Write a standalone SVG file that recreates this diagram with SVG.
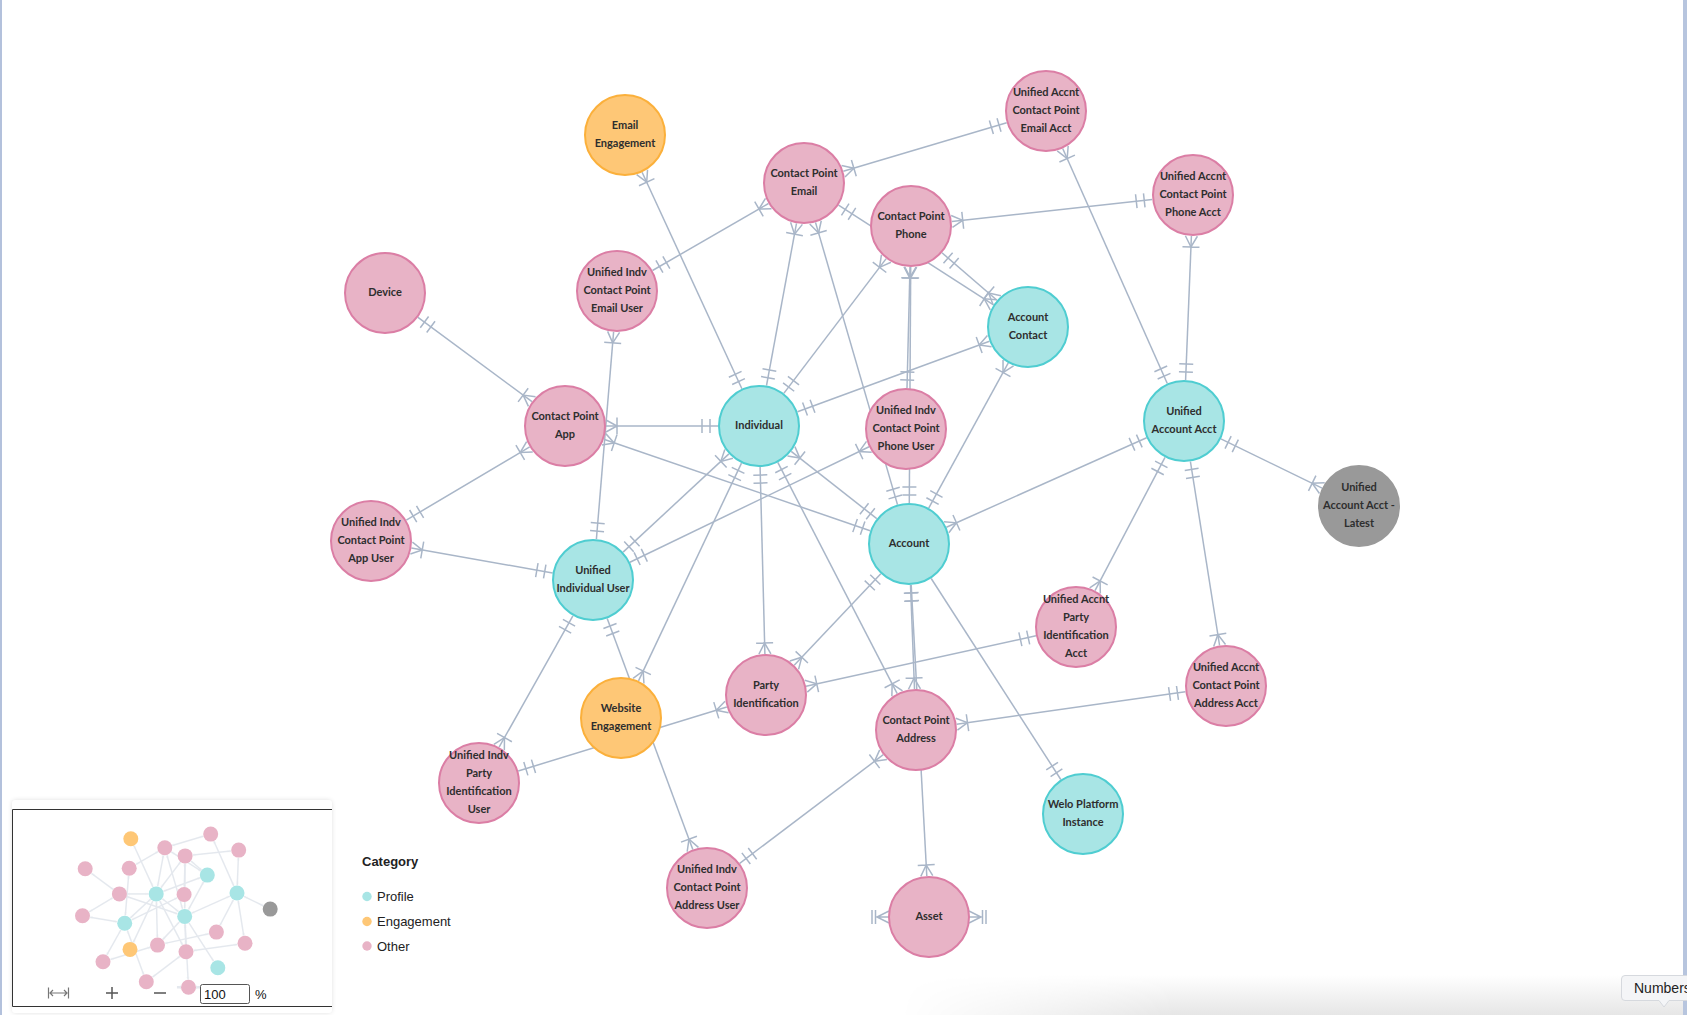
<svg xmlns="http://www.w3.org/2000/svg" width="1687" height="1015" viewBox="0 0 1687 1015">
<style>
.bg{fill:#ffffff}
.e{stroke:#a9b6c8;stroke-width:1.5;fill:none;vector-effect:non-scaling-stroke}
.n circle{stroke-width:2}
.profile circle{fill:#a8e5e5;stroke:#4fcdd1}
.engage circle{fill:#fec776;stroke:#fbb03b}
.other circle{fill:#e8b3c6;stroke:#db7ea5}
.grey circle{fill:#999999;stroke:#999999}
.n text{font-family:Lato,"Liberation Sans",sans-serif;font-size:11px;font-weight:700;fill:#2e2e2e;text-anchor:middle;dominant-baseline:central;transform:translateY(-1.5px)}
.mini circle{stroke:none}
.mp{fill:#a8e5e5}.me{fill:#fec776}.mo{fill:#e8b3c6}.mg{fill:#999999}
.lg{font-family:"Liberation Sans",Arial,sans-serif;font-size:13px;fill:#222}
</style>
<defs>
<marker id="many" viewBox="-20 -12 24 24" refX="0" refY="0" markerWidth="24" markerHeight="24" markerUnits="userSpaceOnUse" orient="auto-start-reverse">
<path d="M0,-6 L-11,0 L0,6 M-11,-8.5 L-11,8.5" fill="none" stroke="#a9b6c8" stroke-width="1.5"/>
</marker>
<marker id="one" viewBox="-20 -12 24 24" refX="0" refY="0" markerWidth="24" markerHeight="24" markerUnits="userSpaceOnUse" orient="auto-start-reverse">
<path d="M-8,-7 L-8,7 M-16,-7 L-16,7" fill="none" stroke="#a9b6c8" stroke-width="1.5"/>
</marker>
<linearGradient id="bottomFade" x1="0" y1="0" x2="0" y2="1">
<stop offset="0" stop-color="#ffffff"/>
<stop offset="1" stop-color="#e6e6e6"/>
</linearGradient>
<linearGradient id="hFade" x1="0" y1="0" x2="1" y2="0">
<stop offset="0" stop-color="#000"/>
<stop offset="0.35" stop-color="#fff"/>
<stop offset="1" stop-color="#fff"/>
</linearGradient>
<mask id="bm" maskUnits="userSpaceOnUse" x="900" y="970" width="790" height="50">
<rect x="900" y="970" width="790" height="50" fill="url(#hFade)"/>
</mask>
<filter id="sh" x="-10%" y="-10%" width="120%" height="120%">
<feDropShadow dx="0" dy="0" stdDeviation="2" flood-color="#000" flood-opacity="0.12"/>
</filter>
</defs>
<rect class="bg" x="0" y="0" width="1687" height="1015"/>
<rect x="900" y="975" width="783" height="40" fill="url(#bottomFade)" mask="url(#bm)"/>
<rect x="0" y="0" width="2" height="1015" fill="#b3c1dc"/>
<rect x="1683" y="0" width="4" height="1015" fill="#b7c5de"/>

<g id="connectors">
<line class="e" x1="642.1" y1="172.2" x2="741.9" y2="388.8" marker-start="url(#many)" marker-end="url(#one)"/>
<line class="e" x1="843.3" y1="171.3" x2="1006.7" y2="122.7" marker-start="url(#many)" marker-end="url(#one)"/>
<line class="e" x1="652.5" y1="270.5" x2="768.5" y2="203.5" marker-start="url(#one)" marker-end="url(#many)"/>
<line class="e" x1="796.5" y1="223.3" x2="766.5" y2="385.7" marker-start="url(#many)" marker-end="url(#one)"/>
<line class="e" x1="815.5" y1="222.4" x2="897.5" y2="504.6" marker-start="url(#many)" marker-end="url(#one)"/>
<line class="e" x1="838.5" y1="205.2" x2="993.5" y2="304.8" marker-start="url(#one)" marker-end="url(#many)"/>
<line class="e" x1="951.8" y1="221.5" x2="1152.2" y2="199.5" marker-start="url(#many)" marker-end="url(#one)"/>
<line class="e" x1="886.2" y1="258.6" x2="783.8" y2="393.4" marker-start="url(#many)" marker-end="url(#one)"/>
<line class="e" x1="910" y1="267" x2="907" y2="388" marker-start="url(#many)" marker-end="url(#one)"/>
<line class="e" x1="910.7" y1="267" x2="909.3" y2="503" marker-start="url(#many)" marker-end="url(#one)"/>
<line class="e" x1="942" y1="252.8" x2="997" y2="300.2" marker-start="url(#one)" marker-end="url(#many)"/>
<line class="e" x1="989.5" y1="341.2" x2="797.5" y2="411.8" marker-start="url(#many)" marker-end="url(#one)"/>
<line class="e" x1="1008.3" y1="362.9" x2="928.7" y2="508.1" marker-start="url(#many)" marker-end="url(#one)"/>
<line class="e" x1="1062.7" y1="148.5" x2="1167.3" y2="383.5" marker-start="url(#many)" marker-end="url(#one)"/>
<line class="e" x1="1191.4" y1="236" x2="1185.6" y2="380" marker-start="url(#many)" marker-end="url(#one)"/>
<line class="e" x1="1220.9" y1="438.9" x2="1322.1" y2="488.1" marker-start="url(#one)" marker-end="url(#many)"/>
<line class="e" x1="1146.6" y1="437.7" x2="946.4" y2="527.3" marker-start="url(#one)" marker-end="url(#many)"/>
<line class="e" x1="1165" y1="457.3" x2="1095" y2="590.7" marker-start="url(#one)" marker-end="url(#many)"/>
<line class="e" x1="1190.4" y1="461.5" x2="1219.6" y2="645.5" marker-start="url(#one)" marker-end="url(#many)"/>
<line class="e" x1="418" y1="317.4" x2="532" y2="401.6" marker-start="url(#one)" marker-end="url(#many)"/>
<line class="e" x1="613.6" y1="331.9" x2="596.4" y2="539.1" marker-start="url(#many)" marker-end="url(#one)"/>
<line class="e" x1="606" y1="426" x2="718" y2="426" marker-start="url(#many)" marker-end="url(#one)"/>
<line class="e" x1="529.7" y1="446.9" x2="406.3" y2="520.1" marker-start="url(#many)" marker-end="url(#one)"/>
<line class="e" x1="603.8" y1="439.3" x2="870.2" y2="530.7" marker-start="url(#many)" marker-end="url(#one)"/>
<line class="e" x1="411.4" y1="548.1" x2="552.6" y2="572.9" marker-start="url(#many)" marker-end="url(#one)"/>
<line class="e" x1="728.9" y1="453.9" x2="623.1" y2="552.1" marker-start="url(#many)" marker-end="url(#one)"/>
<line class="e" x1="869.1" y1="446.8" x2="629.9" y2="562.2" marker-start="url(#many)" marker-end="url(#one)"/>
<line class="e" x1="791.2" y1="451.3" x2="876.8" y2="518.7" marker-start="url(#many)" marker-end="url(#one)"/>
<line class="e" x1="760.1" y1="467" x2="764.9" y2="654" marker-start="url(#one)" marker-end="url(#many)"/>
<line class="e" x1="741.5" y1="463.1" x2="638.5" y2="680.9" marker-start="url(#one)" marker-end="url(#many)"/>
<line class="e" x1="777.8" y1="462.4" x2="897.2" y2="693.6" marker-start="url(#one)" marker-end="url(#many)"/>
<line class="e" x1="572.9" y1="615.8" x2="499.1" y2="747.2" marker-start="url(#one)" marker-end="url(#many)"/>
<line class="e" x1="607.2" y1="618.5" x2="692.8" y2="849.5" marker-start="url(#one)" marker-end="url(#many)"/>
<line class="e" x1="518.2" y1="771" x2="726.8" y2="707" marker-start="url(#one)" marker-end="url(#many)"/>
<line class="e" x1="880.8" y1="573.8" x2="794.2" y2="665.2" marker-start="url(#one)" marker-end="url(#many)"/>
<line class="e" x1="806" y1="686.2" x2="1036" y2="635.8" marker-start="url(#many)" marker-end="url(#one)"/>
<line class="e" x1="910.5" y1="585" x2="914.5" y2="689" marker-start="url(#one)" marker-end="url(#many)"/>
<line class="e" x1="911.2" y1="585" x2="926.8" y2="876" marker-start="url(#one)" marker-end="url(#many)"/>
<line class="e" x1="931.2" y1="578.5" x2="1060.8" y2="779.5" marker-end="url(#one)"/>
<line class="e" x1="956.6" y1="724.2" x2="1185.4" y2="691.8" marker-start="url(#many)" marker-end="url(#one)"/>
<line class="e" x1="883.3" y1="754.7" x2="739.7" y2="863.3" marker-start="url(#many)" marker-end="url(#one)"/>
<path class="e" d="M872,910 L872,924 M875.5,910 L875.5,924 M889,911 L877,917 L889,923 M877,917 L889,917"/>
<path class="e" d="M986,910 L986,924 M982.5,910 L982.5,924 M969,911 L981,917 L969,923 M981,917 L969,917"/>
</g>

<g id="nodes">
<g id="email-engagement" class="n engage"><circle cx="625" cy="135" r="40"/><text x="625" y="126">Email</text><text x="625" y="144">Engagement</text></g>
<g id="contact-point-email" class="n other"><circle cx="804" cy="183" r="40"/><text x="804" y="174">Contact Point</text><text x="804" y="192">Email</text></g>
<g id="contact-point-phone" class="n other"><circle cx="911" cy="226" r="40"/><text x="911" y="217">Contact Point</text><text x="911" y="235">Phone</text></g>
<g id="unified-accnt-cp-email-acct" class="n other"><circle cx="1046" cy="111" r="40"/><text x="1046" y="93">Unified Accnt</text><text x="1046" y="111">Contact Point</text><text x="1046" y="129">Email Acct</text></g>
<g id="unified-accnt-cp-phone-acct" class="n other"><circle cx="1193" cy="195" r="40"/><text x="1193" y="177">Unified Accnt</text><text x="1193" y="195">Contact Point</text><text x="1193" y="213">Phone Acct</text></g>
<g id="unified-indv-cp-email-user" class="n other"><circle cx="617" cy="291" r="40"/><text x="617" y="273">Unified Indv</text><text x="617" y="291">Contact Point</text><text x="617" y="309">Email User</text></g>
<g id="device" class="n other"><circle cx="385" cy="293" r="40"/><text x="385" y="293">Device</text></g>
<g id="account-contact" class="n profile"><circle cx="1028" cy="327" r="40"/><text x="1028" y="318">Account</text><text x="1028" y="336">Contact</text></g>
<g id="contact-point-app" class="n other"><circle cx="565" cy="426" r="40"/><text x="565" y="417">Contact Point</text><text x="565" y="435">App</text></g>
<g id="individual" class="n profile"><circle cx="759" cy="426" r="40"/><text x="759" y="426">Individual</text></g>
<g id="unified-indv-cp-phone-user" class="n other"><circle cx="906" cy="429" r="40"/><text x="906" y="411">Unified Indv</text><text x="906" y="429">Contact Point</text><text x="906" y="447">Phone User</text></g>
<g id="unified-account-acct" class="n profile"><circle cx="1184" cy="421" r="40"/><text x="1184" y="412">Unified</text><text x="1184" y="430">Account Acct</text></g>
<g id="unified-account-acct-latest" class="n grey"><circle cx="1359" cy="506" r="40"/><text x="1359" y="488">Unified</text><text x="1359" y="506">Account Acct -</text><text x="1359" y="524">Latest</text></g>
<g id="unified-indv-cp-app-user" class="n other"><circle cx="371" cy="541" r="40"/><text x="371" y="523">Unified Indv</text><text x="371" y="541">Contact Point</text><text x="371" y="559">App User</text></g>
<g id="unified-individual-user" class="n profile"><circle cx="593" cy="580" r="40"/><text x="593" y="571">Unified</text><text x="593" y="589">Individual User</text></g>
<g id="account" class="n profile"><circle cx="909" cy="544" r="40"/><text x="909" y="544">Account</text></g>
<g id="unified-accnt-party-identification-acct" class="n other"><circle cx="1076" cy="627" r="40"/><text x="1076" y="600">Unified Accnt</text><text x="1076" y="618">Party</text><text x="1076" y="636">Identification</text><text x="1076" y="654">Acct</text></g>
<g id="unified-accnt-cp-address-acct" class="n other"><circle cx="1226" cy="686" r="40"/><text x="1226" y="668">Unified Accnt</text><text x="1226" y="686">Contact Point</text><text x="1226" y="704">Address Acct</text></g>
<g id="website-engagement" class="n engage"><circle cx="621" cy="718" r="40"/><text x="621" y="709">Website</text><text x="621" y="727">Engagement</text></g>
<g id="party-identification" class="n other"><circle cx="766" cy="695" r="40"/><text x="766" y="686">Party</text><text x="766" y="704">Identification</text></g>
<g id="contact-point-address" class="n other"><circle cx="916" cy="730" r="40"/><text x="916" y="721">Contact Point</text><text x="916" y="739">Address</text></g>
<g id="unified-indv-party-identification-user" class="n other"><circle cx="479" cy="783" r="40"/><text x="479" y="756">Unified Indv</text><text x="479" y="774">Party</text><text x="479" y="792">Identification</text><text x="479" y="810">User</text></g>
<g id="unified-indv-cp-address-user" class="n other"><circle cx="707" cy="888" r="40"/><text x="707" y="870">Unified Indv</text><text x="707" y="888">Contact Point</text><text x="707" y="906">Address User</text></g>
<g id="welo-platform-instance" class="n profile"><circle cx="1083" cy="814" r="40"/><text x="1083" y="805">Welo Platform</text><text x="1083" y="823">Instance</text></g>
<g id="asset" class="n other"><circle cx="929" cy="917" r="40"/><text x="929" y="917">Asset</text></g>
</g>

<g id="minimap">
<rect x="12" y="800" width="320" height="213" rx="4" fill="#ffffff" filter="url(#sh)"/>
<use href="#connectors" transform="translate(12,813) scale(0.19)" opacity="0.3"/>
<g class="mini">
<circle class="me" cx="130.8" cy="838.7" r="7.5"/>
<circle class="mo" cx="164.8" cy="847.8" r="7.5"/>
<circle class="mo" cx="185.1" cy="855.9" r="7.5"/>
<circle class="mo" cx="210.7" cy="834.1" r="7.5"/>
<circle class="mo" cx="238.7" cy="850.1" r="7.5"/>
<circle class="mo" cx="129.2" cy="868.3" r="7.5"/>
<circle class="mo" cx="85.2" cy="868.7" r="7.5"/>
<circle class="mp" cx="207.3" cy="875.1" r="7.5"/>
<circle class="mo" cx="119.4" cy="893.9" r="7.5"/>
<circle class="mp" cx="156.2" cy="893.9" r="7.5"/>
<circle class="mo" cx="184.1" cy="894.5" r="7.5"/>
<circle class="mp" cx="237" cy="893" r="7.5"/>
<circle class="mg" cx="270.2" cy="909.1" r="7.5"/>
<circle class="mo" cx="82.5" cy="915.8" r="7.5"/>
<circle class="mp" cx="124.7" cy="923.2" r="7.5"/>
<circle class="mp" cx="184.7" cy="916.4" r="7.5"/>
<circle class="mo" cx="216.4" cy="932.1" r="7.5"/>
<circle class="mo" cx="245" cy="943.3" r="7.5"/>
<circle class="me" cx="130" cy="949.4" r="7.5"/>
<circle class="mo" cx="157.5" cy="945.1" r="7.5"/>
<circle class="mo" cx="186" cy="951.7" r="7.5"/>
<circle class="mo" cx="103" cy="961.8" r="7.5"/>
<circle class="mo" cx="146.3" cy="981.7" r="7.5"/>
<circle class="mp" cx="217.8" cy="967.7" r="7.5"/>
<circle class="mo" cx="188.5" cy="987.2" r="7.5"/>
</g>
<path d="M332,809.5 L12.5,809.5 L12.5,1006.5 L332,1006.5" fill="none" stroke="#333" stroke-width="1"/>
<g stroke="#777" stroke-width="1.2" fill="none">
<path d="M48.5,987.5 L48.5,998.5 M68.5,987.5 L68.5,998.5 M50,993 L67,993 M53,990 L50,993 L53,996 M64,990 L67,993 L64,996"/>
<path d="M106,993 L118,993 M112,987 L112,999" stroke="#555" stroke-width="1.5"/>
<path d="M154,993 L166,993" stroke="#555" stroke-width="1.5"/>
</g>
<rect x="200.5" y="984.5" width="49" height="19" rx="2" fill="#ffffff" stroke="#555" stroke-width="1"/>
<text x="204" y="999" font-family="'Liberation Sans',Arial,sans-serif" font-size="13" fill="#111">100</text>
<text x="255" y="999" font-family="'Liberation Sans',Arial,sans-serif" font-size="13" fill="#111">%</text>
</g>

<g id="legend">
<text class="lg" x="362" y="866" font-weight="700" fill="#181818">Category</text>
<circle cx="367" cy="896.5" r="4.7" fill="#a8e5e5"/>
<text class="lg" x="377" y="901">Profile</text>
<circle cx="367" cy="921.5" r="4.7" fill="#fec776"/>
<text class="lg" x="377" y="926">Engagement</text>
<circle cx="367" cy="946" r="4.7" fill="#e8b3c6"/>
<text class="lg" x="377" y="950.5">Other</text>
</g>

<g id="tooltip">
<path d="M1625,975.5 L1690,975.5 L1690,1000.5 L1669,1000.5 L1664,1007 L1659,1000.5 L1625,1000.5 Q1621.5,1000.5 1621.5,997 L1621.5,979 Q1621.5,975.5 1625,975.5 Z" fill="#f4f5f7" stroke="#d6d9de" stroke-width="1"/>
<text x="1634" y="993" font-family="'Liberation Sans',Arial,sans-serif" font-size="14" fill="#222">Numbers</text>
</g>
</svg>
